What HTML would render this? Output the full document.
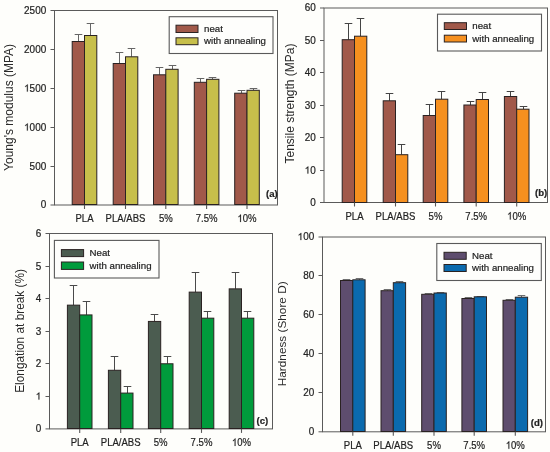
<!DOCTYPE html>
<html><head><meta charset="utf-8"><title>Mechanical properties</title>
<style>
html,body{margin:0;padding:0;background:#fefefb;}
body{width:550px;height:452px;overflow:hidden;}
svg{display:block;will-change:transform;font-family:"Liberation Sans",sans-serif;fill:#222222;}
text{stroke:#222222;stroke-width:0.2px;}
text.yl{stroke-width:0;fill:#2a2a2a;}
.o{fill:none;stroke:none;}
path.one{fill:#222222;stroke:#222222;stroke-width:0.2px;vector-effect:non-scaling-stroke;}
</style></head><body>
<svg width="550" height="452" viewBox="0 0 550 452">
<rect width="550" height="452" fill="#fefefb"/>
<rect x="54.5" y="10.5" width="223" height="194.5" fill="none" stroke="#5a5a5a" stroke-width="1"/>
<path d="M78.5 41.5V34.5M74.7 34.5H82.3" stroke="#666666" stroke-width="1" fill="none"/>
<rect x="72.2" y="41.5" width="12.3" height="163" fill="#a1594a" stroke="#2a2222" stroke-width="1"/>
<path d="M90.5 35.5V23.5M86.7 23.5H94.3" stroke="#666666" stroke-width="1" fill="none"/>
<rect x="84.5" y="35.5" width="12.3" height="169" fill="#c7bf4b" stroke="#2a2222" stroke-width="1"/>
<path d="M119.5 63.5V52.5M115.7 52.5H123.3" stroke="#666666" stroke-width="1" fill="none"/>
<rect x="113.2" y="63.5" width="12.3" height="141" fill="#a1594a" stroke="#2a2222" stroke-width="1"/>
<path d="M131.5 56.8V48.5M127.7 48.5H135.3" stroke="#666666" stroke-width="1" fill="none"/>
<rect x="125.5" y="56.8" width="12.3" height="147.7" fill="#c7bf4b" stroke="#2a2222" stroke-width="1"/>
<path d="M159.5 74.8V67.5M155.7 67.5H163.3" stroke="#666666" stroke-width="1" fill="none"/>
<rect x="153.5" y="74.8" width="12.3" height="129.7" fill="#a1594a" stroke="#2a2222" stroke-width="1"/>
<path d="M172.5 69.3V65.5M168.7 65.5H176.3" stroke="#666666" stroke-width="1" fill="none"/>
<rect x="165.8" y="69.3" width="12.3" height="135.2" fill="#c7bf4b" stroke="#2a2222" stroke-width="1"/>
<path d="M200.5 82.3V78.5M196.7 78.5H204.3" stroke="#666666" stroke-width="1" fill="none"/>
<rect x="194.3" y="82.3" width="12.3" height="122.2" fill="#a1594a" stroke="#2a2222" stroke-width="1"/>
<path d="M212.5 79.3V77.5M208.7 77.5H216.3" stroke="#666666" stroke-width="1" fill="none"/>
<rect x="206.6" y="79.3" width="12.3" height="125.2" fill="#c7bf4b" stroke="#2a2222" stroke-width="1"/>
<path d="M241.5 93.2V90.5M237.7 90.5H245.3" stroke="#666666" stroke-width="1" fill="none"/>
<rect x="234.7" y="93.2" width="12.3" height="111.3" fill="#a1594a" stroke="#2a2222" stroke-width="1"/>
<path d="M253.5 90.3V88.5M249.7 88.5H257.3" stroke="#666666" stroke-width="1" fill="none"/>
<rect x="247" y="90.3" width="12.3" height="114.2" fill="#c7bf4b" stroke="#2a2222" stroke-width="1"/>
<path d="M50.5 205H54.5" stroke="#5a5a5a" stroke-width="1"/>
<text transform="translate(46.2 208.1) scale(0.99 1)" text-anchor="end" font-size="10.05">0</text>
<path d="M50.5 166.5H54.5" stroke="#5a5a5a" stroke-width="1"/>
<text transform="translate(46.2 169.6) scale(0.99 1)" text-anchor="end" font-size="10.05">500</text>
<path d="M50.5 127.5H54.5" stroke="#5a5a5a" stroke-width="1"/>
<g transform="translate(46.2 130.6) scale(0.99 1)"><text text-anchor="end" font-size="10.05"><tspan class="o">1</tspan>000</text><path class="one" transform="translate(-22.35 0) scale(0.004907 -0.004907)" d="M763 0H583V1147Q518 1085 412 1023Q306 961 222 930V1104Q373 1175 486 1276Q599 1377 646 1472H763Z"/></g>
<path d="M50.5 88.5H54.5" stroke="#5a5a5a" stroke-width="1"/>
<g transform="translate(46.2 91.6) scale(0.99 1)"><text text-anchor="end" font-size="10.05"><tspan class="o">1</tspan>500</text><path class="one" transform="translate(-22.35 0) scale(0.004907 -0.004907)" d="M763 0H583V1147Q518 1085 412 1023Q306 961 222 930V1104Q373 1175 486 1276Q599 1377 646 1472H763Z"/></g>
<path d="M50.5 49.5H54.5" stroke="#5a5a5a" stroke-width="1"/>
<text transform="translate(46.2 52.6) scale(0.99 1)" text-anchor="end" font-size="10.05">2000</text>
<path d="M50.5 10.5H54.5" stroke="#5a5a5a" stroke-width="1"/>
<text transform="translate(46.2 13.6) scale(0.99 1)" text-anchor="end" font-size="10.05">2500</text>
<path d="M84.5 205V209" stroke="#5a5a5a" stroke-width="1.1"/>
<text transform="translate(84.5 222) scale(0.92 1)" text-anchor="middle" font-size="10.4">PLA</text>
<path d="M125.5 205V209" stroke="#5a5a5a" stroke-width="1.1"/>
<text transform="translate(125.5 222) scale(0.92 1)" text-anchor="middle" font-size="10.4">PLA/ABS</text>
<path d="M165.8 205V209" stroke="#5a5a5a" stroke-width="1.1"/>
<text transform="translate(165.8 222) scale(0.92 1)" text-anchor="middle" font-size="10.4">5%</text>
<path d="M206.6 205V209" stroke="#5a5a5a" stroke-width="1.1"/>
<text transform="translate(206.6 222) scale(0.92 1)" text-anchor="middle" font-size="10.4">7.5%</text>
<path d="M247 205V209" stroke="#5a5a5a" stroke-width="1.1"/>
<g transform="translate(247 222) scale(0.92 1)"><text text-anchor="middle" font-size="10.4"><tspan class="o">1</tspan>0%</text><path class="one" transform="translate(-10.41 0) scale(0.005078 -0.005078)" d="M763 0H583V1147Q518 1085 412 1023Q306 961 222 930V1104Q373 1175 486 1276Q599 1377 646 1472H763Z"/></g>
<rect x="169.2" y="16.7" width="103.8" height="36.8" fill="#fefefc" stroke="#5a5a5a" stroke-width="1.1"/>
<rect x="176" y="25.2" width="22" height="7.3" fill="#a1594a" stroke="#2a2222" stroke-width="1"/>
<text x="204" y="32.2" font-size="9.7">neat</text>
<rect x="176" y="37.8" width="22" height="6.9" fill="#c7bf4b" stroke="#2a2222" stroke-width="1"/>
<text x="204" y="44.4" font-size="9.7">with annealing</text>
<text class="yl" transform="translate(12.9 107.4) rotate(-90)" text-anchor="middle" font-size="12">Young's modulus (MPA)</text>
<text x="277.7" y="196.8" text-anchor="end" font-size="9.6" font-weight="bold">(a)</text>
<rect x="324" y="8" width="223.5" height="194.5" fill="none" stroke="#5a5a5a" stroke-width="1"/>
<path d="M348.5 39.7V23.5M344.7 23.5H352.3" stroke="#444444" stroke-width="1" fill="none"/>
<rect x="342.2" y="39.7" width="12.3" height="162.8" fill="#a1594a" stroke="#2a2222" stroke-width="1"/>
<path d="M360.5 36.2V18.5M356.7 18.5H364.3" stroke="#444444" stroke-width="1" fill="none"/>
<rect x="354.5" y="36.2" width="12.3" height="166.3" fill="#f6901f" stroke="#2a2222" stroke-width="1"/>
<path d="M389.5 100.8V93.5M385.7 93.5H393.3" stroke="#444444" stroke-width="1" fill="none"/>
<rect x="383.2" y="100.8" width="12.3" height="101.7" fill="#a1594a" stroke="#2a2222" stroke-width="1"/>
<path d="M401.5 154.7V144.5M397.7 144.5H405.3" stroke="#444444" stroke-width="1" fill="none"/>
<rect x="395.5" y="154.7" width="12.3" height="47.8" fill="#f6901f" stroke="#2a2222" stroke-width="1"/>
<path d="M429.5 115.5V104.5M425.7 104.5H433.3" stroke="#444444" stroke-width="1" fill="none"/>
<rect x="423.2" y="115.5" width="12.3" height="87" fill="#a1594a" stroke="#2a2222" stroke-width="1"/>
<path d="M441.5 99.2V91.5M437.7 91.5H445.3" stroke="#444444" stroke-width="1" fill="none"/>
<rect x="435.5" y="99.2" width="12.3" height="103.3" fill="#f6901f" stroke="#2a2222" stroke-width="1"/>
<path d="M470.5 105V101.5M466.7 101.5H474.3" stroke="#444444" stroke-width="1" fill="none"/>
<rect x="463.9" y="105" width="12.3" height="97.5" fill="#a1594a" stroke="#2a2222" stroke-width="1"/>
<path d="M482.5 99.5V92.5M478.7 92.5H486.3" stroke="#444444" stroke-width="1" fill="none"/>
<rect x="476.2" y="99.5" width="12.3" height="103" fill="#f6901f" stroke="#2a2222" stroke-width="1"/>
<path d="M510.5 96.5V91.5M506.7 91.5H514.3" stroke="#444444" stroke-width="1" fill="none"/>
<rect x="504.4" y="96.5" width="12.3" height="106" fill="#a1594a" stroke="#2a2222" stroke-width="1"/>
<path d="M523.5 109.2V106.5M519.7 106.5H527.3" stroke="#444444" stroke-width="1" fill="none"/>
<rect x="516.7" y="109.2" width="12.3" height="93.3" fill="#f6901f" stroke="#2a2222" stroke-width="1"/>
<path d="M320 202.5H324" stroke="#5a5a5a" stroke-width="1"/>
<text transform="translate(315.7 205.6) scale(0.99 1)" text-anchor="end" font-size="10.05">0</text>
<path d="M320 170.5H324" stroke="#5a5a5a" stroke-width="1"/>
<g transform="translate(315.7 173.6) scale(0.99 1)"><text text-anchor="end" font-size="10.05"><tspan class="o">1</tspan>0</text><path class="one" transform="translate(-11.18 0) scale(0.004907 -0.004907)" d="M763 0H583V1147Q518 1085 412 1023Q306 961 222 930V1104Q373 1175 486 1276Q599 1377 646 1472H763Z"/></g>
<path d="M320 137.5H324" stroke="#5a5a5a" stroke-width="1"/>
<text transform="translate(315.7 140.6) scale(0.99 1)" text-anchor="end" font-size="10.05">20</text>
<path d="M320 105.5H324" stroke="#5a5a5a" stroke-width="1"/>
<text transform="translate(315.7 108.6) scale(0.99 1)" text-anchor="end" font-size="10.05">30</text>
<path d="M320 72.5H324" stroke="#5a5a5a" stroke-width="1"/>
<text transform="translate(315.7 75.6) scale(0.99 1)" text-anchor="end" font-size="10.05">40</text>
<path d="M320 40.5H324" stroke="#5a5a5a" stroke-width="1"/>
<text transform="translate(315.7 43.6) scale(0.99 1)" text-anchor="end" font-size="10.05">50</text>
<path d="M320 8H324" stroke="#5a5a5a" stroke-width="1"/>
<text transform="translate(315.7 11.1) scale(0.99 1)" text-anchor="end" font-size="10.05">60</text>
<path d="M354.5 202.5V206.5" stroke="#5a5a5a" stroke-width="1.1"/>
<text transform="translate(354.5 219.5) scale(0.92 1)" text-anchor="middle" font-size="10.4">PLA</text>
<path d="M395.5 202.5V206.5" stroke="#5a5a5a" stroke-width="1.1"/>
<text transform="translate(395.5 219.5) scale(0.92 1)" text-anchor="middle" font-size="10.4">PLA/ABS</text>
<path d="M435.5 202.5V206.5" stroke="#5a5a5a" stroke-width="1.1"/>
<text transform="translate(435.5 219.5) scale(0.92 1)" text-anchor="middle" font-size="10.4">5%</text>
<path d="M476.2 202.5V206.5" stroke="#5a5a5a" stroke-width="1.1"/>
<text transform="translate(476.2 219.5) scale(0.92 1)" text-anchor="middle" font-size="10.4">7.5%</text>
<path d="M516.7 202.5V206.5" stroke="#5a5a5a" stroke-width="1.1"/>
<g transform="translate(516.7 219.5) scale(0.92 1)"><text text-anchor="middle" font-size="10.4"><tspan class="o">1</tspan>0%</text><path class="one" transform="translate(-10.41 0) scale(0.005078 -0.005078)" d="M763 0H583V1147Q518 1085 412 1023Q306 961 222 930V1104Q373 1175 486 1276Q599 1377 646 1472H763Z"/></g>
<rect x="437.5" y="14.2" width="104" height="36.8" fill="#fefefc" stroke="#5a5a5a" stroke-width="1.1"/>
<rect x="444.3" y="22.7" width="22.2" height="6.8" fill="#a1594a" stroke="#2a2222" stroke-width="1"/>
<text x="472.3" y="29.2" font-size="9.7">neat</text>
<rect x="444.3" y="35.2" width="22.2" height="6.8" fill="#f6901f" stroke="#2a2222" stroke-width="1"/>
<text x="472.3" y="41.7" font-size="9.7">with annealing</text>
<text class="yl" transform="translate(293.8 103.5) rotate(-90)" text-anchor="middle" font-size="12">Tensile strength (MPa)</text>
<text x="547.3" y="195.8" text-anchor="end" font-size="9.6" font-weight="bold">(b)</text>
<rect x="49.5" y="233.5" width="223" height="195.4" fill="none" stroke="#5a5a5a" stroke-width="1"/>
<path d="M73.5 305.15V285.5M69.7 285.5H77.3" stroke="#4a4a4a" stroke-width="1" fill="none"/>
<rect x="67.4" y="305.15" width="12.3" height="123.35" fill="#4b5c50" stroke="#2a2222" stroke-width="1"/>
<path d="M86.5 314.92V301.5M82.7 301.5H90.3" stroke="#4a4a4a" stroke-width="1" fill="none"/>
<rect x="79.7" y="314.92" width="12.3" height="113.58" fill="#009b3c" stroke="#2a2222" stroke-width="1"/>
<path d="M114.5 370.28V356.5M110.7 356.5H118.3" stroke="#4a4a4a" stroke-width="1" fill="none"/>
<rect x="108.4" y="370.28" width="12.3" height="58.22" fill="#4b5c50" stroke="#2a2222" stroke-width="1"/>
<path d="M127.5 393.08V386.5M123.7 386.5H131.3" stroke="#4a4a4a" stroke-width="1" fill="none"/>
<rect x="120.7" y="393.08" width="12.3" height="35.42" fill="#009b3c" stroke="#2a2222" stroke-width="1"/>
<path d="M154.5 321.43V314.5M150.7 314.5H158.3" stroke="#4a4a4a" stroke-width="1" fill="none"/>
<rect x="148.4" y="321.43" width="12.3" height="107.07" fill="#4b5c50" stroke="#2a2222" stroke-width="1"/>
<path d="M167.5 363.77V356.5M163.7 356.5H171.3" stroke="#4a4a4a" stroke-width="1" fill="none"/>
<rect x="160.7" y="363.77" width="12.3" height="64.73" fill="#009b3c" stroke="#2a2222" stroke-width="1"/>
<path d="M195.5 292.12V272.5M191.7 272.5H199.3" stroke="#4a4a4a" stroke-width="1" fill="none"/>
<rect x="189.2" y="292.12" width="12.3" height="136.38" fill="#4b5c50" stroke="#2a2222" stroke-width="1"/>
<path d="M207.5 318.17V311.5M203.7 311.5H211.3" stroke="#4a4a4a" stroke-width="1" fill="none"/>
<rect x="201.5" y="318.17" width="12.3" height="110.33" fill="#009b3c" stroke="#2a2222" stroke-width="1"/>
<path d="M235.5 288.86V272.5M231.7 272.5H239.3" stroke="#4a4a4a" stroke-width="1" fill="none"/>
<rect x="229.2" y="288.86" width="12.3" height="139.64" fill="#4b5c50" stroke="#2a2222" stroke-width="1"/>
<path d="M247.5 318.17V311.5M243.7 311.5H251.3" stroke="#4a4a4a" stroke-width="1" fill="none"/>
<rect x="241.5" y="318.17" width="12.3" height="110.33" fill="#009b3c" stroke="#2a2222" stroke-width="1"/>
<path d="M45.5 428.9H49.5" stroke="#5a5a5a" stroke-width="1"/>
<text transform="translate(41.2 432) scale(0.99 1)" text-anchor="end" font-size="10.05">0</text>
<path d="M45.5 396.5H49.5" stroke="#5a5a5a" stroke-width="1"/>
<g transform="translate(41.2 399.6) scale(0.99 1)"><text text-anchor="end" font-size="10.05"><tspan class="o">1</tspan></text><path class="one" transform="translate(-5.59 0) scale(0.004907 -0.004907)" d="M763 0H583V1147Q518 1085 412 1023Q306 961 222 930V1104Q373 1175 486 1276Q599 1377 646 1472H763Z"/></g>
<path d="M45.5 363.5H49.5" stroke="#5a5a5a" stroke-width="1"/>
<text transform="translate(41.2 366.6) scale(0.99 1)" text-anchor="end" font-size="10.05">2</text>
<path d="M45.5 331.5H49.5" stroke="#5a5a5a" stroke-width="1"/>
<text transform="translate(41.2 334.6) scale(0.99 1)" text-anchor="end" font-size="10.05">3</text>
<path d="M45.5 298.5H49.5" stroke="#5a5a5a" stroke-width="1"/>
<text transform="translate(41.2 301.6) scale(0.99 1)" text-anchor="end" font-size="10.05">4</text>
<path d="M45.5 266.5H49.5" stroke="#5a5a5a" stroke-width="1"/>
<text transform="translate(41.2 269.6) scale(0.99 1)" text-anchor="end" font-size="10.05">5</text>
<path d="M45.5 233.5H49.5" stroke="#5a5a5a" stroke-width="1"/>
<text transform="translate(41.2 236.6) scale(0.99 1)" text-anchor="end" font-size="10.05">6</text>
<path d="M79.7 428.9V432.9" stroke="#5a5a5a" stroke-width="1.1"/>
<text transform="translate(79.7 445.9) scale(0.92 1)" text-anchor="middle" font-size="10.4">PLA</text>
<path d="M120.7 428.9V432.9" stroke="#5a5a5a" stroke-width="1.1"/>
<text transform="translate(120.7 445.9) scale(0.92 1)" text-anchor="middle" font-size="10.4">PLA/ABS</text>
<path d="M160.7 428.9V432.9" stroke="#5a5a5a" stroke-width="1.1"/>
<text transform="translate(160.7 445.9) scale(0.92 1)" text-anchor="middle" font-size="10.4">5%</text>
<path d="M201.5 428.9V432.9" stroke="#5a5a5a" stroke-width="1.1"/>
<text transform="translate(201.5 445.9) scale(0.92 1)" text-anchor="middle" font-size="10.4">7.5%</text>
<path d="M241.5 428.9V432.9" stroke="#5a5a5a" stroke-width="1.1"/>
<g transform="translate(241.5 445.9) scale(0.92 1)"><text text-anchor="middle" font-size="10.4"><tspan class="o">1</tspan>0%</text><path class="one" transform="translate(-10.41 0) scale(0.005078 -0.005078)" d="M763 0H583V1147Q518 1085 412 1023Q306 961 222 930V1104Q373 1175 486 1276Q599 1377 646 1472H763Z"/></g>
<rect x="54.4" y="240.4" width="104.6" height="37.6" fill="#fefefc" stroke="#5a5a5a" stroke-width="1.1"/>
<rect x="61.4" y="249.6" width="22.2" height="7" fill="#4b5c50" stroke="#2a2222" stroke-width="1"/>
<text x="89.6" y="256.3" font-size="9.7">Neat</text>
<rect x="61.4" y="262" width="22.2" height="7.4" fill="#009b3c" stroke="#2a2222" stroke-width="1"/>
<text x="89.6" y="269.1" font-size="9.7">with annealing</text>
<text class="yl" transform="translate(24.4 330.9) rotate(-90)" text-anchor="middle" font-size="11.85">Elongation at break (%)</text>
<text x="268.3" y="423.6" text-anchor="end" font-size="9.6" font-weight="bold">(c)</text>
<rect x="322.5" y="237" width="223" height="194.8" fill="none" stroke="#5a5a5a" stroke-width="1"/>
<path d="M346.5 280.5V279.5M342.7 279.5H350.3" stroke="#707070" stroke-width="1" fill="none"/>
<rect x="340.5" y="280.5" width="12.3" height="151" fill="#5e4d6e" stroke="#2a2222" stroke-width="1"/>
<path d="M359.5 279.8V278.5M355.7 278.5H363.3" stroke="#707070" stroke-width="1" fill="none"/>
<rect x="352.8" y="279.8" width="12.3" height="151.7" fill="#0b6aae" stroke="#2a2222" stroke-width="1"/>
<path d="M387.5 290.7V289.5M383.7 289.5H391.3" stroke="#707070" stroke-width="1" fill="none"/>
<rect x="381" y="290.7" width="12.3" height="140.8" fill="#5e4d6e" stroke="#2a2222" stroke-width="1"/>
<path d="M399.5 282.7V281.5M395.7 281.5H403.3" stroke="#707070" stroke-width="1" fill="none"/>
<rect x="393.3" y="282.7" width="12.3" height="148.8" fill="#0b6aae" stroke="#2a2222" stroke-width="1"/>
<path d="M428.5 294.3V293.5M424.7 293.5H432.3" stroke="#707070" stroke-width="1" fill="none"/>
<rect x="421.7" y="294.3" width="12.3" height="137.2" fill="#5e4d6e" stroke="#2a2222" stroke-width="1"/>
<path d="M440.5 293V292.5M436.7 292.5H444.3" stroke="#707070" stroke-width="1" fill="none"/>
<rect x="434" y="293" width="12.3" height="138.5" fill="#0b6aae" stroke="#2a2222" stroke-width="1"/>
<path d="M468.5 298.5V297.5M464.7 297.5H472.3" stroke="#707070" stroke-width="1" fill="none"/>
<rect x="461.9" y="298.5" width="12.3" height="133" fill="#5e4d6e" stroke="#2a2222" stroke-width="1"/>
<path d="M480.5 296.8V296.5M476.7 296.5H484.3" stroke="#707070" stroke-width="1" fill="none"/>
<rect x="474.2" y="296.8" width="12.3" height="134.7" fill="#0b6aae" stroke="#2a2222" stroke-width="1"/>
<path d="M509.5 300.3V299.5M505.7 299.5H513.3" stroke="#707070" stroke-width="1" fill="none"/>
<rect x="503" y="300.3" width="12.3" height="131.2" fill="#5e4d6e" stroke="#2a2222" stroke-width="1"/>
<path d="M521.5 297.2V295.5M517.7 295.5H525.3" stroke="#707070" stroke-width="1" fill="none"/>
<rect x="515.3" y="297.2" width="12.3" height="134.3" fill="#0b6aae" stroke="#2a2222" stroke-width="1"/>
<path d="M318.5 431.8H322.5" stroke="#5a5a5a" stroke-width="1"/>
<text transform="translate(314.2 434.9) scale(0.99 1)" text-anchor="end" font-size="10.05">0</text>
<path d="M318.5 392.5H322.5" stroke="#5a5a5a" stroke-width="1"/>
<text transform="translate(314.2 395.6) scale(0.99 1)" text-anchor="end" font-size="10.05">20</text>
<path d="M318.5 353.5H322.5" stroke="#5a5a5a" stroke-width="1"/>
<text transform="translate(314.2 356.6) scale(0.99 1)" text-anchor="end" font-size="10.05">40</text>
<path d="M318.5 314.5H322.5" stroke="#5a5a5a" stroke-width="1"/>
<text transform="translate(314.2 317.6) scale(0.99 1)" text-anchor="end" font-size="10.05">60</text>
<path d="M318.5 275.5H322.5" stroke="#5a5a5a" stroke-width="1"/>
<text transform="translate(314.2 278.6) scale(0.99 1)" text-anchor="end" font-size="10.05">80</text>
<path d="M318.5 237H322.5" stroke="#5a5a5a" stroke-width="1"/>
<g transform="translate(314.2 240.1) scale(0.99 1)"><text text-anchor="end" font-size="10.05"><tspan class="o">1</tspan>00</text><path class="one" transform="translate(-16.76 0) scale(0.004907 -0.004907)" d="M763 0H583V1147Q518 1085 412 1023Q306 961 222 930V1104Q373 1175 486 1276Q599 1377 646 1472H763Z"/></g>
<path d="M352.8 431.8V435.8" stroke="#5a5a5a" stroke-width="1.1"/>
<text transform="translate(352.8 448.8) scale(0.92 1)" text-anchor="middle" font-size="10.4">PLA</text>
<path d="M393.3 431.8V435.8" stroke="#5a5a5a" stroke-width="1.1"/>
<text transform="translate(393.3 448.8) scale(0.92 1)" text-anchor="middle" font-size="10.4">PLA/ABS</text>
<path d="M434 431.8V435.8" stroke="#5a5a5a" stroke-width="1.1"/>
<text transform="translate(434 448.8) scale(0.92 1)" text-anchor="middle" font-size="10.4">5%</text>
<path d="M474.2 431.8V435.8" stroke="#5a5a5a" stroke-width="1.1"/>
<text transform="translate(474.2 448.8) scale(0.92 1)" text-anchor="middle" font-size="10.4">7.5%</text>
<path d="M515.3 431.8V435.8" stroke="#5a5a5a" stroke-width="1.1"/>
<g transform="translate(515.3 448.8) scale(0.92 1)"><text text-anchor="middle" font-size="10.4"><tspan class="o">1</tspan>0%</text><path class="one" transform="translate(-10.41 0) scale(0.005078 -0.005078)" d="M763 0H583V1147Q518 1085 412 1023Q306 961 222 930V1104Q373 1175 486 1276Q599 1377 646 1472H763Z"/></g>
<rect x="436.8" y="243.5" width="104.5" height="37" fill="#fefefc" stroke="#5a5a5a" stroke-width="1.1"/>
<rect x="444" y="252.3" width="22.2" height="7" fill="#5e4d6e" stroke="#2a2222" stroke-width="1"/>
<text x="472" y="259" font-size="9.7">Neat</text>
<rect x="444" y="264.5" width="22.2" height="7" fill="#0b6aae" stroke="#2a2222" stroke-width="1"/>
<text x="472" y="271.2" font-size="9.7">with annealing</text>
<text class="yl" transform="translate(286.4 333.8) rotate(-90)" text-anchor="middle" font-size="11.8">Hardness (Shore D)</text>
<text x="543" y="425.6" text-anchor="end" font-size="9.6" font-weight="bold">(d)</text>
</svg>
</body></html>
